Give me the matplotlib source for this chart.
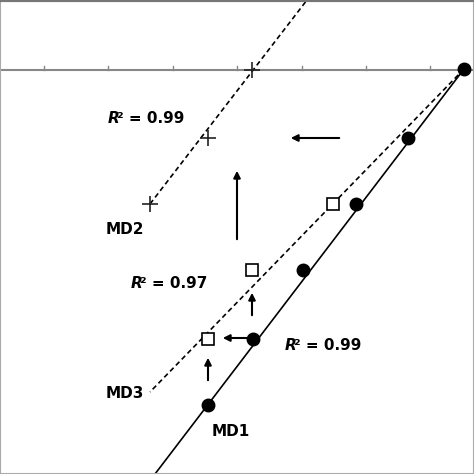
import matplotlib.pyplot as plt

# approximate positions (pixel-like units, y down)
md1_x = [464, 408, 356, 303, 253, 208]
md1_y = [69, 138, 204, 270, 339, 405]
md3_x = [333, 252, 208]
md3_y = [204, 270, 339]
md2_x = [252, 208, 150]
md2_y = [70, 138, 204]
tick_x = [44, 108, 173, 237, 302, 366, 430]

fig = plt.figure(figsize=(4.74, 4.74), dpi=100)
ax = fig.add_axes([0, 0, 1, 1])
ax.set_xlim(0, 474)
ax.set_ylim(474, 0)
ax.set_xticks([]); ax.set_yticks([])
for s in ax.spines.values():
    s.set_color('#aaaaaa'); s.set_linewidth(1.5)
ax.spines['top'].set_color('#777777'); ax.spines['top'].set_linewidth(3)

# horizontal axis line with ticks
ax.plot([0, 474], [70, 70], color='#888888', lw=1.5)
for t in tick_x:
    ax.plot([t, t], [70, 66], color='#888888', lw=1)

# fit lines
ax.plot([464, 155], [69, 474], color='black', lw=1.2)
ax.plot([464, 150], [69, 392], color='black', lw=1.2, ls=(0, (3, 2)))
ax.plot([150, 307], [204, 0], color='black', lw=1.2, ls=(0, (3, 2)))

ax.plot(md1_x, md1_y, 'o', color='black', ms=9, zorder=5)
ax.plot(md3_x, md3_y, 's', mfc='white', mec='black', ms=9, mew=1.2, zorder=5)
ax.plot(md2_x, md2_y, '+', color='#222222', ms=11, mew=1.2, zorder=5)

arrows = [((342, 138), (288, 138)), ((237, 242), (237, 168)),
          ((252, 318), (252, 290)), ((250, 338), (220, 338)),
          ((208, 383), (208, 355))]
for (x0, y0), (x1, y1) in arrows:
    ax.annotate('', xy=(x1, y1), xytext=(x0, y0),
                arrowprops=dict(arrowstyle='-|>', color='black', lw=1.5, mutation_scale=10))

kw = dict(fontsize=11, fontweight='bold', va='center')
for x, y, val in [(108, 118, '0.99'), (131, 284, '0.97'), (285, 345, '0.99')]:
    ax.text(x, y, 'R', fontstyle='italic', ha='left', **kw)
    ax.text(x + 9, y, '² = ' + val, ha='left', **kw)
ax.text(125, 229, 'MD2', ha='center', **kw)
ax.text(125, 393, 'MD3', ha='center', **kw)
ax.text(231, 432, 'MD1', ha='center', **kw)

fig.savefig('out.png', dpi=100)
